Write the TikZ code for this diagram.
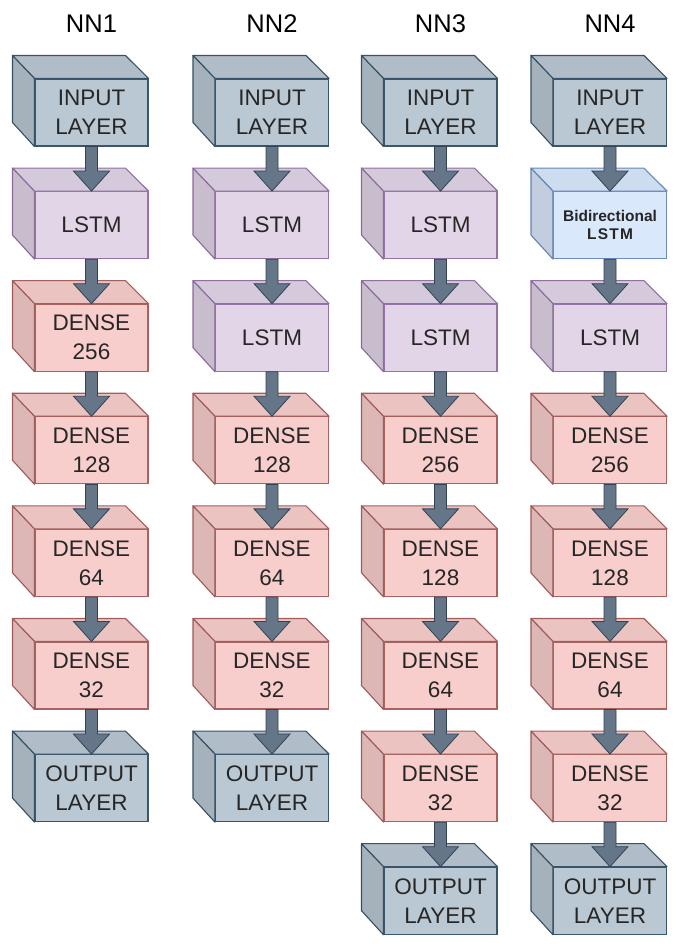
\documentclass[tikz,border=0pt]{standalone}
\usepackage{fontspec}
\setmainfont{Liberation Sans}
\usetikzlibrary{calc}

\definecolor{ioFill}{HTML}{BAC8D3}
\definecolor{ioLine}{HTML}{3A566B}
\definecolor{lstmFill}{HTML}{E1D5E7}
\definecolor{lstmLine}{HTML}{9673A6}
\definecolor{denseFill}{HTML}{F8CECC}
\definecolor{denseLine}{HTML}{A86260}
\definecolor{biFill}{HTML}{DAE8FC}
\definecolor{biLine}{HTML}{6C8EBF}
\definecolor{flowFill}{HTML}{647687}
\definecolor{flowLine}{HTML}{314354}

\tikzset{
  iolayer/.style={fill=ioFill, draw=ioLine},
  lstmlayer/.style={fill=lstmFill, draw=lstmLine},
  denselayer/.style={fill=denseFill, draw=denseLine},
  bilayer/.style={fill=biFill, draw=biLine},
  bifont/.style={font=\fontsize{15.5}{17.5}\selectfont\bfseries},
  cubefront/.style={minimum width=113pt, minimum height=67pt, inner sep=0pt,
    line width=1.1pt, align=center, text=black!85,
    font=\fontsize{22.5}{29}\selectfont},
  flowarrow/.style={fill=flowFill, draw=flowLine, line width=0.8pt, line join=miter},
  title/.style={font=\fontsize{25.5}{30}\selectfont}
}

% name, x of front face centre, row, style, text
\newcommand{\cube}[5]{%
  \node[cubefront,#4] (#1) at (#2,{-112.5-112.6*#3}) {#5};
  \filldraw[#4, line width=1.1pt, line join=round]
    (#1.north west) -- ++(-22,23) -- ++(113,0) -- (#1.north east) -- cycle;
  \fill[black, fill opacity=0.05]
    (#1.north west) -- ++(-22,23) -- ++(113,0) -- (#1.north east) -- cycle;
  \filldraw[#4, line width=1.1pt, line join=round]
    (#1.north west) -- ++(-22,23) -- ++(0,-67) -- (#1.south west) -- cycle;
  \fill[black, fill opacity=0.11]
    (#1.north west) -- ++(-22,23) -- ++(0,-67) -- (#1.south west) -- cycle;
}

% fat arrow from the bottom of one layer to the front top of the next
\newcommand{\flow}[2]{%
  \filldraw[flowarrow]
    ($(#1.south)+(-6,0)$) -- ($(#2.north)+(-6,20)$) -- ($(#2.north)+(-18,20)$)
    -- (#2.north) -- ($(#2.north)+(18,20)$) -- ($(#2.north)+(6,20)$)
    -- ($(#1.south)+(6,0)$) -- cycle;
}

\begin{document}
\begin{tikzpicture}[x=1pt,y=1pt]

    \useasboundingbox (0,0) rectangle (685,-948);

    \node[title] (t1) at (91.5,-24) {NN1};
    \node[title] (t2) at (272,-24) {NN2};
    \node[title] (t3) at (440.5,-24) {NN3};
    \node[title] (t4) at (610,-24) {NN4};

    % NN1
    \cube{a0}{91.5}{0}{iolayer}{INPUT\\LAYER}
    \cube{a1}{91.5}{1}{lstmlayer}{LSTM}
    \cube{a2}{91.5}{2}{denselayer}{DENSE\\256}
    \cube{a3}{91.5}{3}{denselayer}{DENSE\\128}
    \cube{a4}{91.5}{4}{denselayer}{DENSE\\64}
    \cube{a5}{91.5}{5}{denselayer}{DENSE\\32}
    \cube{a6}{91.5}{6}{iolayer}{OUTPUT\\LAYER}

    % NN2
    \cube{b0}{272}{0}{iolayer}{INPUT\\LAYER}
    \cube{b1}{272}{1}{lstmlayer}{LSTM}
    \cube{b2}{272}{2}{lstmlayer}{LSTM}
    \cube{b3}{272}{3}{denselayer}{DENSE\\128}
    \cube{b4}{272}{4}{denselayer}{DENSE\\64}
    \cube{b5}{272}{5}{denselayer}{DENSE\\32}
    \cube{b6}{272}{6}{iolayer}{OUTPUT\\LAYER}

    % NN3
    \cube{c0}{440.5}{0}{iolayer}{INPUT\\LAYER}
    \cube{c1}{440.5}{1}{lstmlayer}{LSTM}
    \cube{c2}{440.5}{2}{lstmlayer}{LSTM}
    \cube{c3}{440.5}{3}{denselayer}{DENSE\\256}
    \cube{c4}{440.5}{4}{denselayer}{DENSE\\128}
    \cube{c5}{440.5}{5}{denselayer}{DENSE\\64}
    \cube{c6}{440.5}{6}{denselayer}{DENSE\\32}
    \cube{c7}{440.5}{7}{iolayer}{OUTPUT\\LAYER}

    % NN4
    \cube{d0}{610}{0}{iolayer}{INPUT\\LAYER}
    \cube{d1}{610}{1}{bilayer,bifont}{Bidirectional\\{\addfontfeature{LetterSpace=8}LSTM}}
    \cube{d2}{610}{2}{lstmlayer}{LSTM}
    \cube{d3}{610}{3}{denselayer}{DENSE\\256}
    \cube{d4}{610}{4}{denselayer}{DENSE\\128}
    \cube{d5}{610}{5}{denselayer}{DENSE\\64}
    \cube{d6}{610}{6}{denselayer}{DENSE\\32}
    \cube{d7}{610}{7}{iolayer}{OUTPUT\\LAYER}

    \flow{a0}{a1} \flow{a1}{a2} \flow{a2}{a3} \flow{a3}{a4} \flow{a4}{a5} \flow{a5}{a6}
    \flow{b0}{b1} \flow{b1}{b2} \flow{b2}{b3} \flow{b3}{b4} \flow{b4}{b5} \flow{b5}{b6}
    \flow{c0}{c1} \flow{c1}{c2} \flow{c2}{c3} \flow{c3}{c4} \flow{c4}{c5} \flow{c5}{c6} \flow{c6}{c7}
    \flow{d0}{d1} \flow{d1}{d2} \flow{d2}{d3} \flow{d3}{d4} \flow{d4}{d5} \flow{d5}{d6} \flow{d6}{d7}

\end{tikzpicture}
\end{document}
